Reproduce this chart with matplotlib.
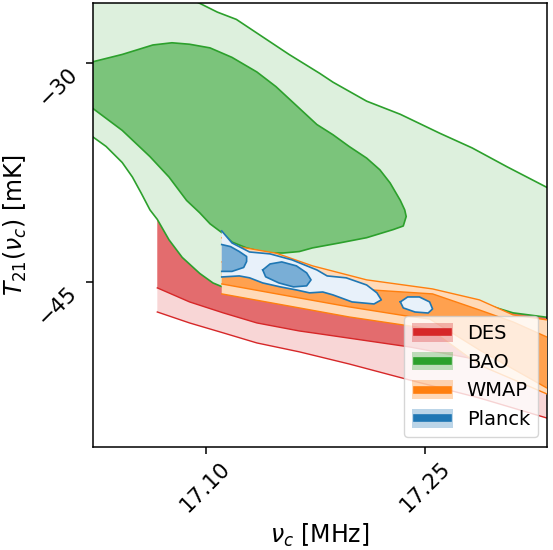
import matplotlib.pyplot as plt
from matplotlib.patches import Rectangle
from matplotlib.lines import Line2D
from matplotlib.legend_handler import HandlerBase

# colours: (line, dark fill, light fill)
des_c = ('#d62728', '#e36c6e', '#f8d6d6')
bao_c = ('#2ca02c', '#7bc47b', '#ddf0dd')
wmap_c = ('#ff7f0e', '#ffa14f', '#ffdab8')
planck_c = ('#1f77b4', '#79aed6', '#e8f1fa')

# DES contours (prior cut at nu_c ~ 17.067)
des_top_x = [17.067, 17.111, 17.164, 17.239, 17.333, 17.342]
des_top_y = [-40.39, -42.44, -43.82, -45.53, -47.24, -47.45]
des_lo1_x = [17.067, 17.089, 17.112, 17.135, 17.164, 17.178, 17.239, 17.287, 17.333, 17.342]
des_lo1_y = [-45.39, -46.35, -47.10, -47.79, -48.34, -48.54, -49.43, -50.32, -51.35, -51.56]
des_lo2_x = [17.067, 17.089, 17.112, 17.135, 17.164, 17.198, 17.239, 17.287, 17.333, 17.342]
des_lo2_y = [-47.04, -47.79, -48.47, -49.16, -49.77, -50.60, -51.69, -52.93, -54.30, -54.57]

# BAO contours
bao_top2_x = [17.007, 17.062, 17.096, 17.108, 17.121, 17.139, 17.157, 17.178, 17.187, 17.210,
              17.233, 17.260, 17.282, 17.306, 17.333, 17.349]
bao_top2_y = [-22.9, -24.3, -25.9, -26.5, -27.0, -28.2, -29.4, -30.7, -31.3, -32.6,
              -33.5, -34.8, -35.8, -37.1, -38.5, -39.2]
bao_lo2_x = [17.007, 17.023, 17.032, 17.043, 17.050, 17.056, 17.062, 17.067, 17.075, 17.084,
             17.096, 17.105, 17.111, 17.164, 17.233, 17.287, 17.310, 17.333, 17.349]
bao_lo2_y = [-34.2, -35.05, -35.7, -36.8, -37.8, -38.9, -40.05, -40.7, -42.1, -43.3,
             -44.4, -45.05, -45.3, -45.7, -46.1, -46.4, -47.1, -47.4, -47.5]
bao_top1_x = [17.007, 17.023, 17.043, 17.064, 17.077, 17.089, 17.103, 17.118, 17.135, 17.148,
              17.162, 17.176, 17.187, 17.198, 17.210, 17.219, 17.226, 17.233, 17.236, 17.237]
bao_top1_y = [-30.2, -29.9, -29.4, -28.75, -28.6, -28.7, -28.95, -29.6, -30.6, -31.6,
              -32.9, -34.2, -34.9, -35.7, -36.5, -37.3, -38.2, -39.4, -40.05, -40.5]
bao_lo1_x = [17.007, 17.023, 17.043, 17.062, 17.075, 17.087, 17.096, 17.103, 17.111, 17.118,
             17.128, 17.142, 17.153, 17.164, 17.173, 17.192, 17.210, 17.228, 17.235]
bao_lo1_y = [-32.2, -33.1, -34.6, -36.4, -37.8, -39.4, -40.25, -41.0, -41.6, -42.25,
             -42.65, -43.0, -43.0, -42.9, -42.65, -42.3, -41.95, -41.4, -41.15]

# WMAP contours (prior cut at nu_c ~ 17.111)
wmap_top2_x = [17.111, 17.123, 17.130, 17.1485, 17.173, 17.210, 17.255, 17.287, 17.310, 17.333, 17.342]
wmap_top2_y = [-41.96, -42.58, -42.70, -43.02, -43.88, -44.84, -45.46, -46.21, -47.24, -47.58, -47.72]
wmap_lo2_x = [17.111, 17.164, 17.198, 17.239, 17.253, 17.287, 17.333, 17.342]
wmap_lo2_y = [-45.80, -46.76, -47.38, -47.99, -48.20, -50.67, -52.65, -53.06]
wmap_top1_x = [17.111, 17.164, 17.224, 17.255, 17.287, 17.310, 17.333, 17.342]
wmap_top1_y = [-43.61, -45.19, -45.60, -45.80, -46.90, -47.72, -48.75, -48.95]
wmap_lo1_x = [17.111, 17.164, 17.198, 17.237, 17.253, 17.287, 17.333, 17.342]
wmap_lo1_y = [-45.12, -46.08, -46.69, -47.31, -47.52, -49.64, -52.24, -52.65]

# Planck contours (prior cut at nu_c ~ 17.111)
planck_2a_x = [17.111, 17.118, 17.130, 17.144, 17.159, 17.176, 17.183, 17.196, 17.210, 17.217, 17.220,
               17.215, 17.200, 17.187, 17.180, 17.171, 17.162, 17.151, 17.139, 17.130, 17.123, 17.111]
planck_2a_y = [-41.49, -42.31, -42.93, -43.06, -43.47, -44.16, -44.57, -44.70, -45.19, -45.73, -46.21,
               -46.49, -46.35, -45.87, -45.67, -45.73, -45.53, -45.32, -45.05, -44.70, -44.57, -44.64]
planck_2b_x = [17.233, 17.238, 17.246, 17.253, 17.255, 17.252, 17.243, 17.235]
planck_2b_y = [-46.35, -46.01, -46.01, -46.35, -46.83, -47.11, -47.04, -46.76]
planck_1a_x = [17.111, 17.117, 17.123, 17.128, 17.128, 17.126, 17.118, 17.111]
planck_1a_y = [-42.42, -42.56, -42.90, -43.24, -43.58, -43.99, -44.26, -44.26]
planck_1b_x = [17.139, 17.144, 17.152, 17.162, 17.169, 17.172, 17.169, 17.160, 17.150, 17.141]
planck_1b_y = [-44.16, -43.75, -43.61, -43.88, -44.36, -44.84, -45.25, -45.32, -45.05, -44.63]

labels = ['DES', 'BAO', 'WMAP', 'Planck']


def band(ax, top_x, top_y, lo_x, lo_y, fill, edge, z):
    xs = list(lo_x) + list(top_x)[::-1]
    ys = list(lo_y) + list(top_y)[::-1]
    ax.fill(xs, ys, color=fill, lw=0, zorder=z)
    ax.plot(xs, ys, color=edge, lw=1, zorder=z + 0.01)


def blob(ax, xs, ys, fill, edge, z, closed=True):
    ax.fill(xs, ys, color=fill, lw=0, zorder=z)
    if closed:
        xs = list(xs) + [xs[0]]
        ys = list(ys) + [ys[0]]
    ax.plot(xs, ys, color=edge, lw=1.2, zorder=z + 0.01)


class BandHandler(HandlerBase):
    def create_artists(self, legend, orig_handle, xdescent, ydescent, width, height, fontsize, trans):
        c = orig_handle
        rect = Rectangle((-xdescent, -ydescent - 0.1 * height), width, height * 1.2,
                         facecolor=c, alpha=0.3, lw=0, transform=trans)
        y = -ydescent + height / 2
        line = Line2D([-xdescent + 0.12 * width, -xdescent + 0.88 * width], [y, y],
                      color=c, lw=5.5, transform=trans)
        return [rect, line]


fig = plt.figure(figsize=(5.53, 5.5), dpi=100)
ax = fig.add_axes([0.168, 0.188, 0.822, 0.8067])

# DES
band(ax, des_top_x, des_top_y, des_lo2_x, des_lo2_y, des_c[2], des_c[0], 1.0)
band(ax, des_top_x, des_top_y, des_lo1_x, des_lo1_y, des_c[1], des_c[0], 1.1)
# BAO
blob(ax, bao_top2_x + bao_lo2_x[::-1], bao_top2_y + bao_lo2_y[::-1], bao_c[2], bao_c[0], 2.0)
blob(ax, bao_top1_x + bao_lo1_x[::-1], bao_top1_y + bao_lo1_y[::-1], bao_c[1], bao_c[0], 2.1)
# WMAP
band(ax, wmap_top2_x, wmap_top2_y, wmap_lo2_x, wmap_lo2_y, wmap_c[2], wmap_c[0], 3.0)
band(ax, wmap_top1_x, wmap_top1_y, wmap_lo1_x, wmap_lo1_y, wmap_c[1], wmap_c[0], 3.1)
# Planck
blob(ax, planck_2a_x, planck_2a_y, planck_c[2], planck_c[0], 4.0, closed=False)
blob(ax, planck_2b_x, planck_2b_y, planck_c[2], planck_c[0], 4.0)
blob(ax, planck_1a_x, planck_1a_y, planck_c[1], planck_c[0], 4.1, closed=False)
blob(ax, planck_1b_x, planck_1b_y, planck_c[1], planck_c[0], 4.1)

ax.set_xlim(17.023, 17.3335)
ax.set_ylim(-56.26, -25.87)
ax.set_xticks([17.10, 17.25])
ax.set_xticklabels(['17.10', '17.25'])
ax.set_yticks([-30, -45])
ax.tick_params(labelsize=15.5, length=5, width=1.1)
for lab in ax.get_xticklabels():
    lab.set_rotation(45)
for lab in ax.get_yticklabels():
    lab.set_rotation(45)
    lab.set_va('top')
for s in ax.spines.values():
    s.set_linewidth(1.1)
ax.set_xlabel(r'$\nu_c$ [MHz]', fontsize=17)
ax.set_ylabel(r'$T_{21}(\nu_c)$ [mK]', fontsize=17)

line_colors = [des_c[0], bao_c[0], wmap_c[0], planck_c[0]]
ax.legend(line_colors, labels, handler_map={str: BandHandler()}, loc='lower right',
          fontsize=14, handlelength=2.1, handletextpad=0.7, handleheight=0.85, framealpha=0.8)

fig.savefig('out.png', dpi=100)
